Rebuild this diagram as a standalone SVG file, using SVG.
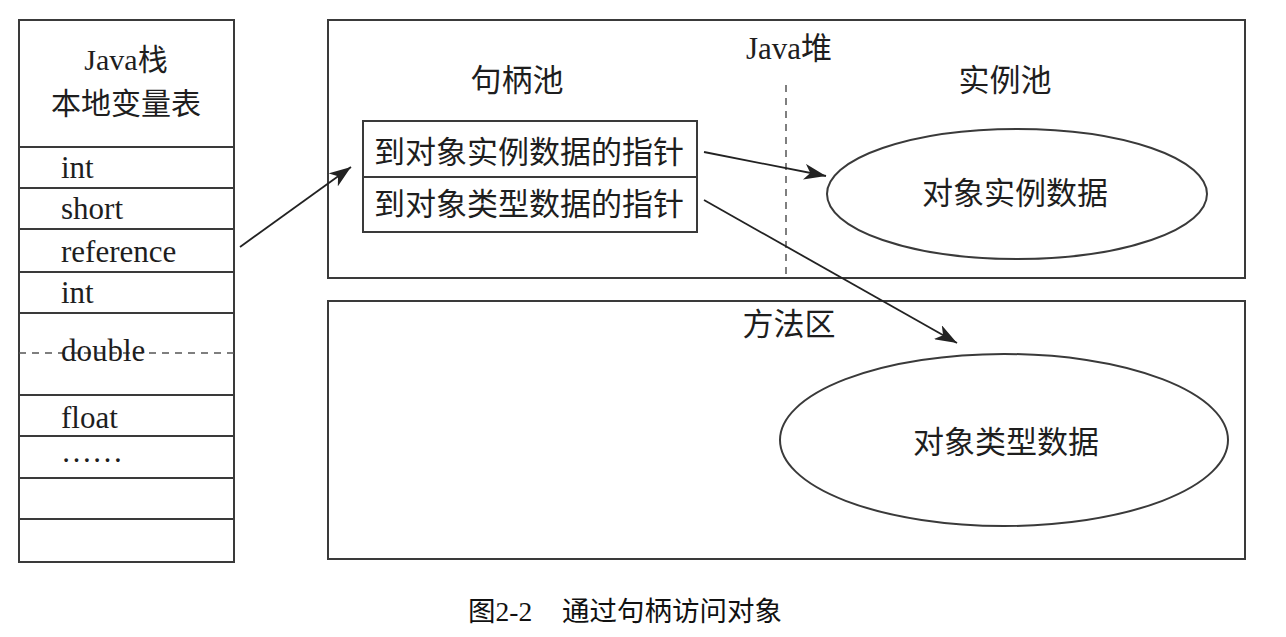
<svg xmlns="http://www.w3.org/2000/svg" width="1286" height="637" viewBox="0 0 1286 637">
<defs>
<style>
.box{fill:none;stroke:#3a3a3a;stroke-width:2}
.ln{stroke:#3a3a3a;stroke-width:1.8}
.dash{stroke:#555;stroke-width:1.5;stroke-dasharray:7 6;fill:none}
.lat{font-family:"Liberation Serif","Noto Sans CJK SC",serif;font-size:31px;fill:#1e1e1e}
.cjk{font-family:"Noto Sans CJK SC","Liberation Sans",sans-serif;font-size:31px;fill:#1e1e1e}
.cap{font-family:"Liberation Serif","Noto Sans CJK SC",serif;font-size:27.5px;fill:#111}
.arr{stroke:#222;stroke-width:1.8;fill:none;marker-end:url(#ah)}
</style>
<marker id="ah" markerUnits="userSpaceOnUse" markerWidth="24" markerHeight="16" refX="22" refY="8" orient="auto">
<path d="M0,0 L22,8 L0,16 L6,8 Z" fill="#222"/>
</marker>
</defs>
<rect width="1286" height="637" fill="#fff"/>

<g id="java-stack">
<rect class="box" x="19" y="20" width="215" height="542"/>
<line class="ln" x1="19" y1="147" x2="234" y2="147"/>
<line class="ln" x1="19" y1="188" x2="234" y2="188"/>
<line class="ln" x1="19" y1="229" x2="234" y2="229"/>
<line class="ln" x1="19" y1="272" x2="234" y2="272"/>
<line class="ln" x1="19" y1="313" x2="234" y2="313"/>
<line class="ln" x1="19" y1="395" x2="234" y2="395"/>
<line class="ln" x1="19" y1="436" x2="234" y2="436"/>
<line class="ln" x1="19" y1="478" x2="234" y2="478"/>
<line class="ln" x1="19" y1="519" x2="234" y2="519"/>
<line class="dash" x1="19" y1="353" x2="234" y2="353"/>
<text class="lat" x="126" y="70" text-anchor="middle" style="font-size:30px">Java栈</text>
<text class="cjk" x="126" y="114" text-anchor="middle" style="font-size:30px">本地变量表</text>
<text class="lat" x="61" y="178">int</text>
<text class="lat" x="61" y="219">short</text>
<text class="lat" x="61" y="262">reference</text>
<text class="lat" x="61" y="303">int</text>
<text class="lat" x="61" y="361">double</text>
<text class="lat" x="61" y="428">float</text>
<text class="lat" x="61" y="462">……</text>
</g>

<g id="java-heap">
<rect class="box" x="328" y="20" width="917" height="258"/>
<text class="lat" x="789" y="59" text-anchor="middle">Java堆</text>
<line class="dash" x1="786" y1="85" x2="786" y2="278"/>
<text class="cjk" x="517" y="91" text-anchor="middle">句柄池</text>
<text class="cjk" x="1005" y="91" text-anchor="middle">实例池</text>
</g>

<g id="handle-pool">
<rect class="box" x="363" y="121" width="334" height="111"/>
<line class="ln" x1="363" y1="177" x2="697" y2="177"/>
<text class="cjk" x="529" y="163" text-anchor="middle">到对象实例数据的指针</text>
<text class="cjk" x="529" y="215" text-anchor="middle">到对象类型数据的指针</text>
</g>

<g id="instance-data">
<ellipse class="box" cx="1017" cy="194" rx="190" ry="65"/>
<text class="cjk" x="1015" y="204" text-anchor="middle">对象实例数据</text>
</g>

<g id="method-area">
<rect class="box" x="328" y="301" width="917" height="258"/>
<text class="cjk" x="789" y="335" text-anchor="middle">方法区</text>
</g>

<g id="type-data">
<ellipse class="box" cx="1004" cy="440" rx="224" ry="86"/>
<text class="cjk" x="1006" y="453" text-anchor="middle">对象类型数据</text>
</g>

<g id="connectors">
<line class="arr" x1="240" y1="247" x2="351" y2="167"/>
<line class="arr" x1="704" y1="152" x2="826" y2="176"/>
<line class="arr" x1="704" y1="200" x2="957" y2="343"/>
</g>

<g id="caption">
<text class="cap" y="621"><tspan x="468">图2-2</tspan><tspan x="562">通过句柄访问对象</tspan></text>
</g>
</svg>
